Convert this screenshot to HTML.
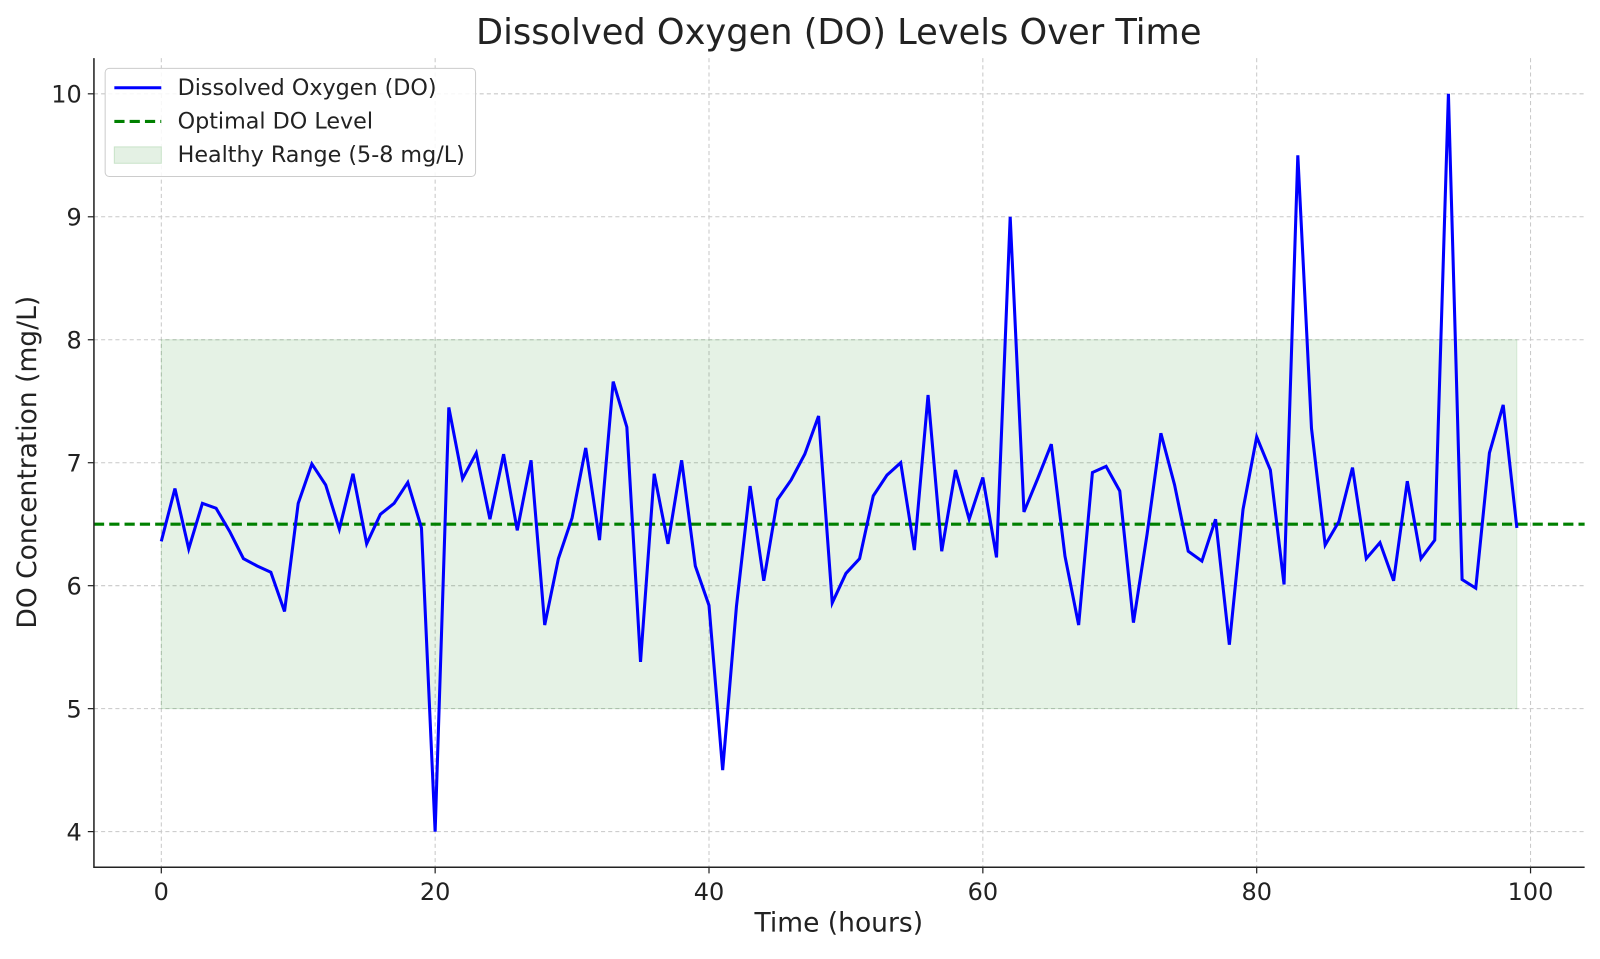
<!DOCTYPE html>
<html><head><meta charset="utf-8"><style>
body{margin:0;background:#fff;}
svg text{font-family:"DejaVu Sans","Liberation Sans",sans-serif;fill:#222;}
</style></head><body>
<svg id="chart" width="1600" height="954" viewBox="0 0 1568 935" xmlns="http://www.w3.org/2000/svg">
<text x="822" y="43" font-size="34.5" text-anchor="middle">Dissolved Oxygen (DO) Levels Over Time</text>
<g id="grid"></g><g id="band"></g><g id="series"></g><g id="axes"></g>
<text x="822" y="913" font-size="26" text-anchor="middle">Time (hours)</text>
<text transform="translate(35,453) rotate(-90)" font-size="26" text-anchor="middle">DO Concentration (mg/L)</text>
<g>
<rect x="103" y="67" width="363" height="106" rx="4" fill="#fff" fill-opacity="0.85" stroke="#ccc"/>
<line x1="112" y1="86" x2="158" y2="86" stroke="#0000ff" stroke-width="3"/>
<text x="174" y="93" font-size="21.8">Dissolved Oxygen (DO)</text>
<line x1="112" y1="119" x2="158" y2="119" stroke="#008000" stroke-width="3" stroke-dasharray="10,5"/>
<text x="174" y="126" font-size="21.8">Optimal DO Level</text>
<rect x="112" y="144" width="46" height="16" fill="#e4f1e4" stroke="#c9e3c9"/>
<text x="174" y="159" font-size="21.8">Healthy Range (5-8 mg/L)</text>
</g>
</svg>
<script>
const hours=[];for(let i=0;i<100;i++)hours.push(i);
const doValues=[6.36,6.79,6.30,6.67,6.63,6.44,6.22,6.16,6.11,5.79,6.67,6.99,6.82,6.46,6.91,6.34,6.58,6.67,6.84,6.47,4.00,7.45,6.87,7.08,6.54,7.07,6.45,7.02,5.68,6.22,6.55,7.12,6.37,7.66,7.29,5.38,6.91,6.34,7.02,6.16,5.84,4.50,5.83,6.81,6.04,6.70,6.86,7.07,7.38,5.86,6.10,6.22,6.73,6.90,7.00,6.29,7.55,6.28,6.94,6.54,6.88,6.23,9.00,6.60,6.87,7.15,6.24,5.68,6.92,6.97,6.77,5.70,6.42,7.24,6.82,6.28,6.20,6.54,5.52,6.62,7.21,6.94,6.01,9.50,7.28,6.33,6.52,6.96,6.22,6.35,6.04,6.85,6.22,6.37,10.0,6.05,5.98,7.08,7.47,6.47];
const optimalLevel=[6.5];
const healthyRange=[5,8];
const xTicks=[0,20,40,60,80,100];
const yTicks=[4,5,6,7,8,9,10];
const NS="http://www.w3.org/2000/svg";
const L=92,R=1553,T=57,B=850;
const xMin=-4.92,xMax=103.95,yMin=3.71,yMax=10.29;
const X=v=>L+(v-xMin)/(xMax-xMin)*(R-L);
const Y=v=>B-(v-yMin)/(yMax-yMin)*(B-T);
function mk(tag,attrs,parent){const e=document.createElementNS(NS,tag);for(const k in attrs)e.setAttribute(k,attrs[k]);document.getElementById(parent).appendChild(e);return e;}
xTicks.forEach(t=>{const g=mk('line',{x1:X(t),x2:X(t),y1:T,y2:B,stroke:'#c8c8c8','stroke-dasharray':'4,3','stroke-width':1},'grid');


const tk=mk('line',{x1:X(t),x2:X(t),y1:B,y2:B+6,stroke:'#222','stroke-width':1.2},'axes');


const tx=mk('text',{x:X(t),y:B+32,'font-size':23.5,'text-anchor':'middle'},'axes');tx.textContent=t;

});
yTicks.forEach(t=>{const g=mk('line',{x1:L,x2:R,y1:Y(t),y2:Y(t),stroke:'#c8c8c8','stroke-dasharray':'4,3','stroke-width':1},'grid');


const tk=mk('line',{x1:L-6,x2:L,y1:Y(t),y2:Y(t),stroke:'#222','stroke-width':1.2},'axes');


const tx=mk('text',{x:L-12,y:Y(t)+8.5,'font-size':23.5,'text-anchor':'end'},'axes');tx.textContent=t;

});
const band=mk('rect',{x:X(hours[0]),y:Y(healthyRange[1]),width:X(hours[hours.length-1])-X(hours[0]),height:Y(healthyRange[0])-Y(healthyRange[1]),fill:'#008000','fill-opacity':0.1,stroke:'#008000','stroke-opacity':0.12},'band');


const opt=mk('line',{x1:L,x2:R,y1:Y(optimalLevel[0]),y2:Y(optimalLevel[0]),stroke:'#008000','stroke-width':3,'stroke-dasharray':'10,5'},'series');


const pts=doValues.map((v,i)=>X(hours[i]).toFixed(1)+','+Y(v).toFixed(1)).join(' ');
const line=mk('polyline',{points:pts,fill:'none',stroke:'#0000ff','stroke-width':3,'stroke-linejoin':'miter'},'series');


const ax=mk('path',{d:`M${L},${T} V${B} H${R}`,fill:'none',stroke:'#222','stroke-width':1.5},'axes');


</script>
</body></html>
